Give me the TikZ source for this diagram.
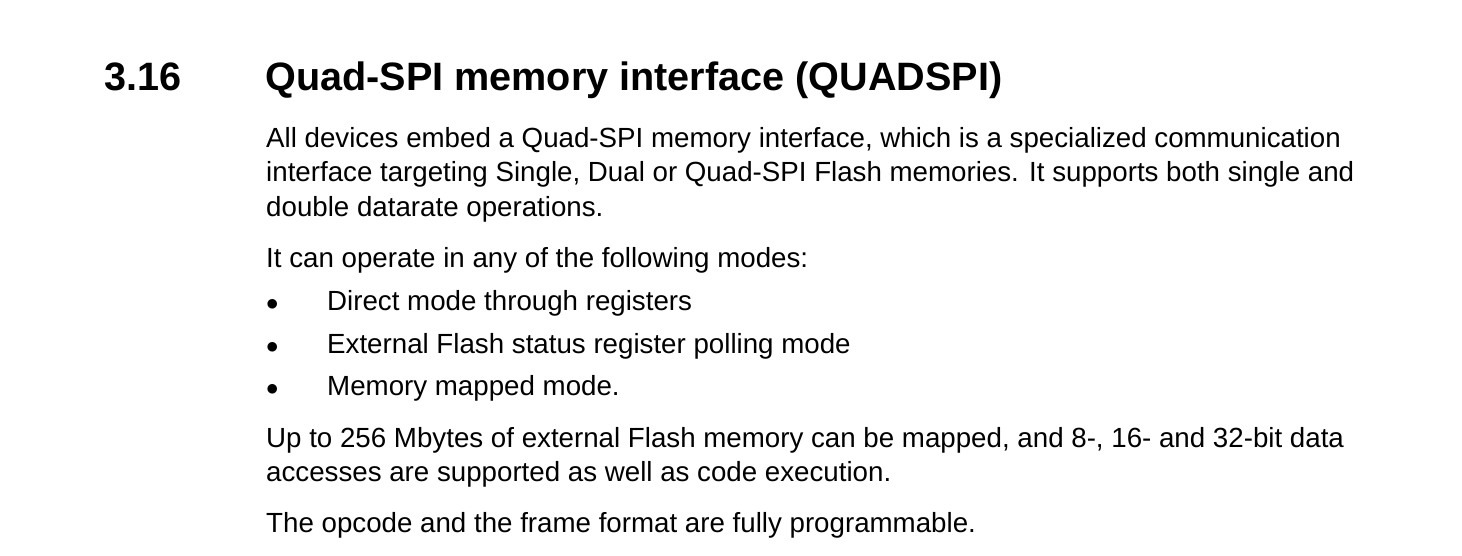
\documentclass[tikz,border=0pt]{standalone}
\usepackage{fontspec}
\setmainfont{Liberation Sans}
\begin{document}
\begin{tikzpicture}[x=1pt,y=1pt,
  body/.style={anchor=base west,inner sep=0pt,font=\fontsize{27.7}{32}\selectfont},
  ttl/.style={anchor=base west,inner sep=0pt,font=\fontsize{39.6}{44}\selectfont\bfseries}]
\useasboundingbox[fill=white] (0,0) rectangle (1462,-556);
\node[ttl] (num) at (104,-91) {3.16};
\node[ttl] (title) at (265,-91) {Quad-SPI memory interface (QUADSPI)};
\node[body] (l1) at (266,-148) {All devices embed a Quad-SPI memory interface, which is a specialized communication};
\node[body] (l2) at (266,-182) {interface targeting Single, Dual or Quad-SPI Flash memories. It supports both single and};
\node[body] (l3) at (266,-217) {double datarate operations.};
\node[body] (l4) at (266,-267) {It can operate in any of the following modes:};
\node[body] (b1) at (266,-310) {$\bullet$};
\node[body] (t1) at (327,-310) {Direct mode through registers};
\node[body] (b2) at (266,-353) {$\bullet$};
\node[body] (t2) at (327,-353) {External Flash status register polling mode};
\node[body] (b3) at (266,-395) {$\bullet$};
\node[body] (t3) at (327,-395) {Memory mapped mode.};
\node[body] (l5) at (266,-447) {Up to 256 Mbytes of external Flash memory can be mapped, and 8-, 16- and 32-bit data};
\node[body] (l6) at (266,-481) {accesses are supported as well as code execution.};
\node[body] (l7) at (266,-532) {The opcode and the frame format are fully programmable.};
\end{tikzpicture}
\end{document}
